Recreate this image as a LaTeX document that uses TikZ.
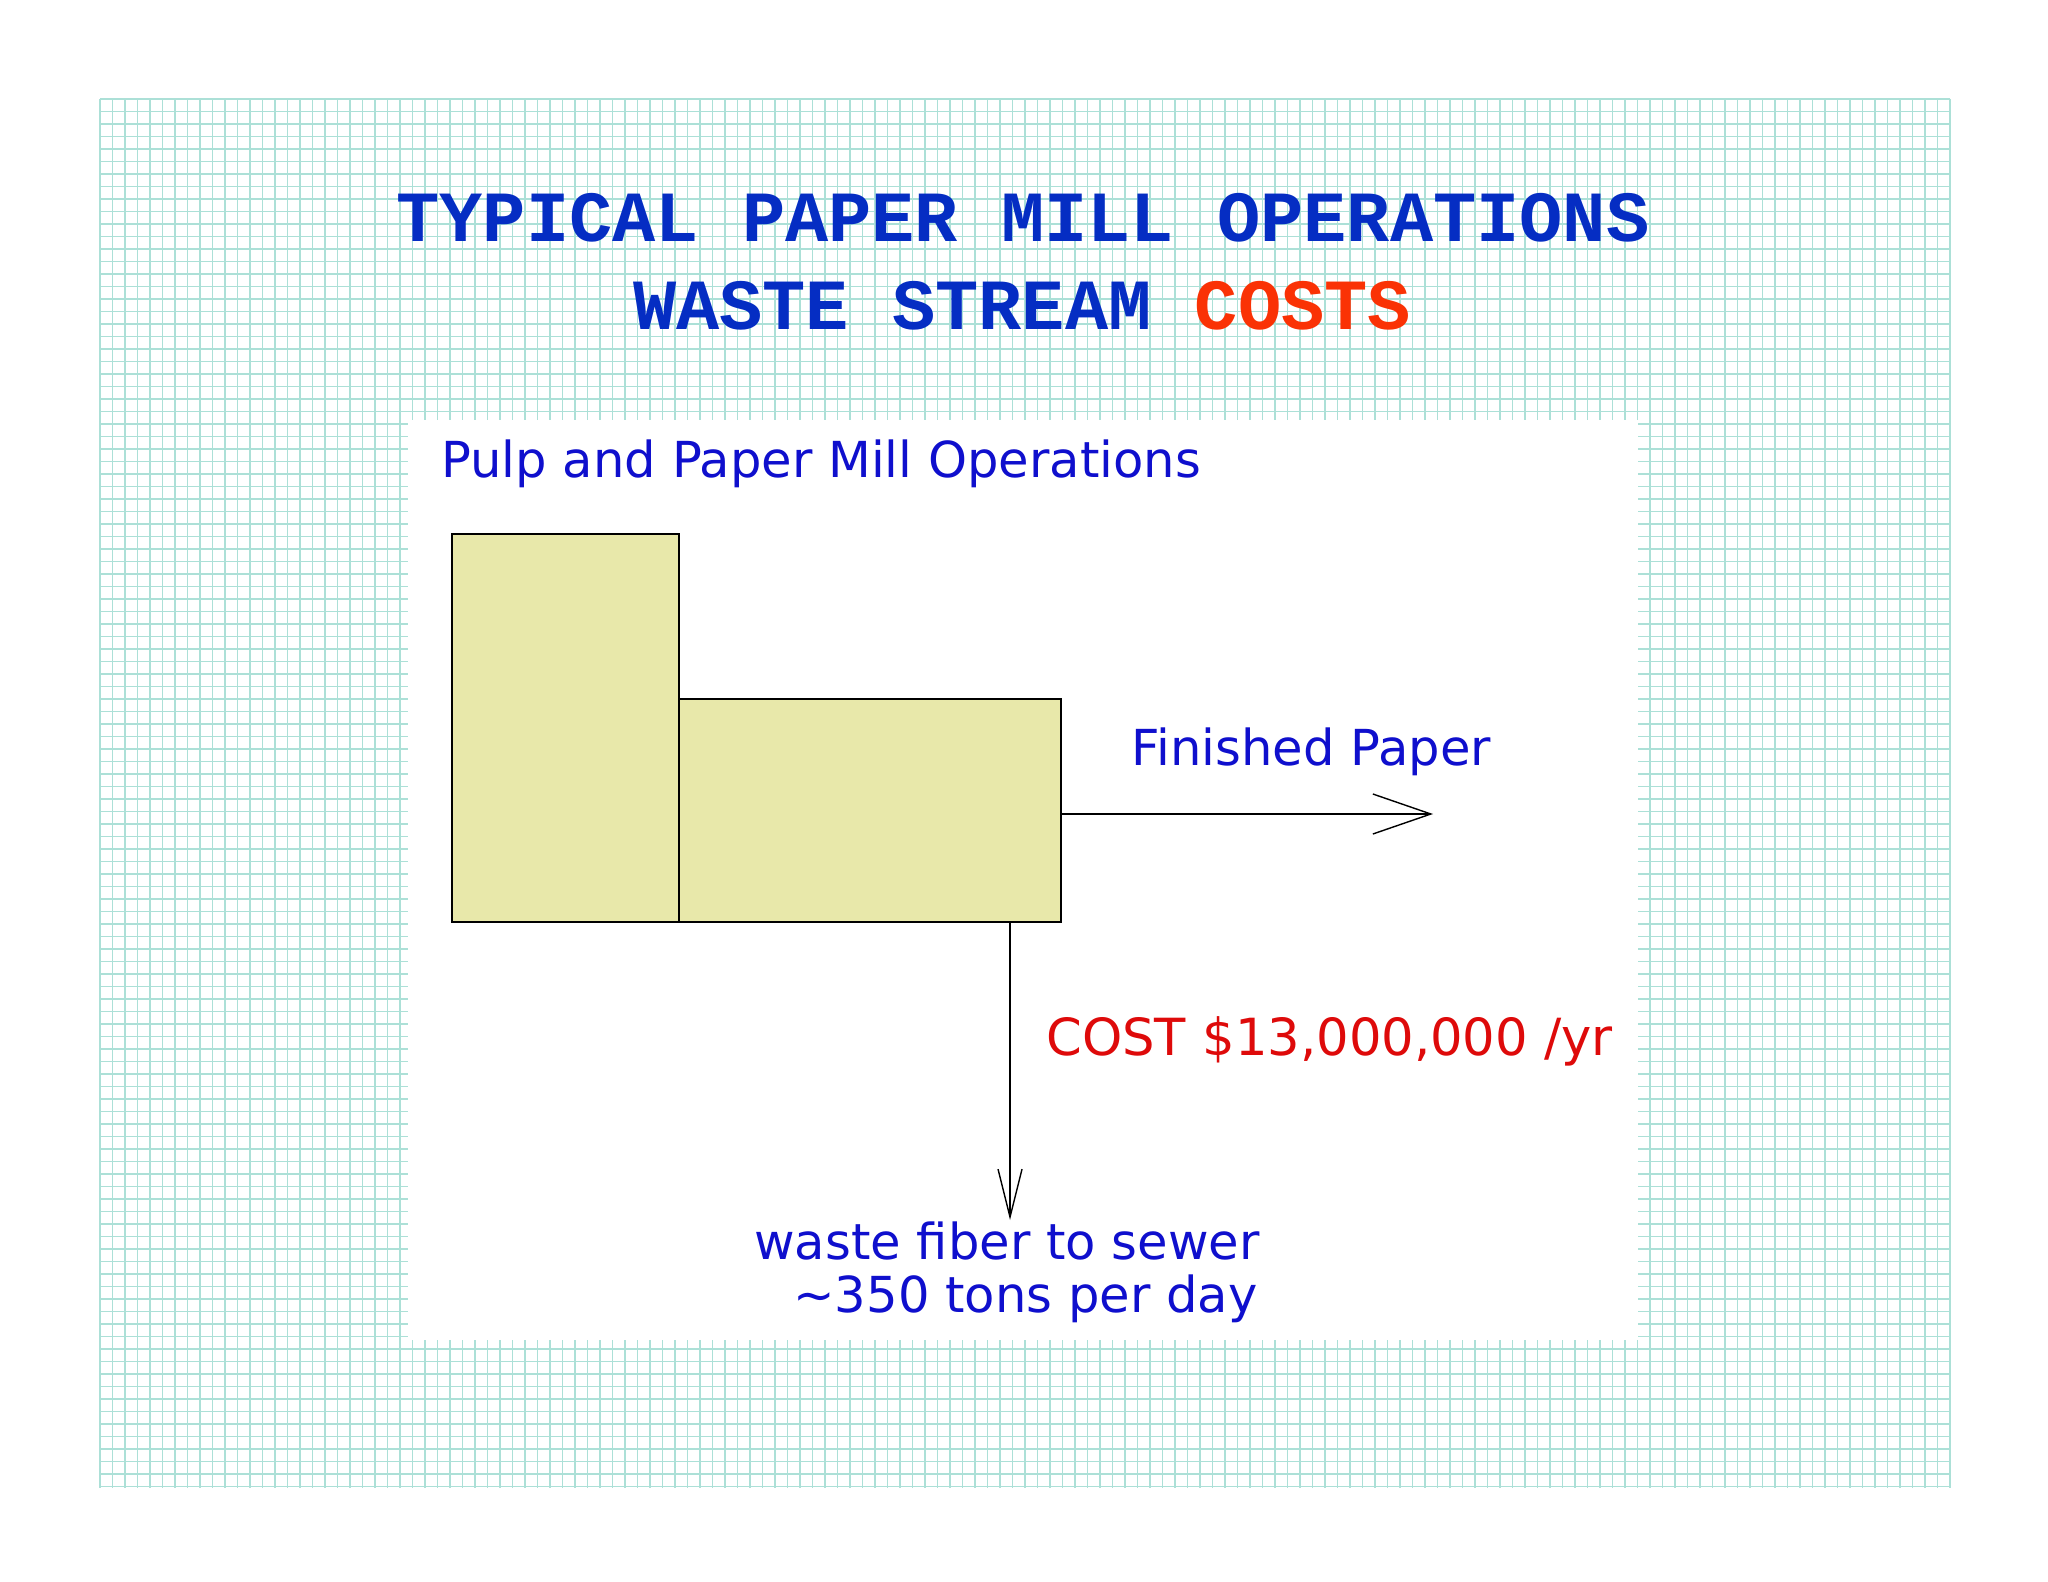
\documentclass[tikz,border=0pt]{standalone}
\usepackage{fontspec}
\usetikzlibrary{arrows.meta}
\newfontfamily\titlefont{Liberation Mono}
\newfontfamily\labelfont{DejaVu Sans}
\definecolor{gridc}{RGB}{172,224,215}
\definecolor{titleblue}{RGB}{5,45,195}
\definecolor{titlered}{RGB}{250,50,5}
\definecolor{txtblue}{RGB}{15,15,205}
\definecolor{txtred}{RGB}{222,10,10}
\definecolor{boxfill}{RGB}{232,232,170}
\begin{document}
\begin{tikzpicture}[x=0.5pt,y=-0.5pt,
  titletext/.style={inner sep=0pt, font=\titlefont\bfseries\fontsize{36}{40}\selectfont},
  lbl/.style={inner sep=0pt, font=\labelfont\fontsize{24.8}{29}\selectfont},
  millbox/.style={draw=black, line width=0.75pt, fill=boxfill, inner sep=0pt, outer sep=0pt, anchor=north west},
  flow/.style={draw=black, line width=0.7pt}
]
\useasboundingbox (0,0) rectangle (2048,1582);
\fill[white] (0,0) rectangle (2048,1582);
% graph paper grid
\foreach \i in {0,...,148} {
  \draw[gridc, line width=0.75pt] ({100+12.5*\i},99) -- ({100+12.5*\i},1488);
}
\foreach \j in {0,...,111} {
  \draw[gridc, line width=0.75pt] (100,{99+12.5*\j}) -- (1950,{99+12.5*\j});
}
% white panel
\fill[white] (408,420) rectangle (1638,1340);

% title
\node[titletext, text=titleblue, anchor=base] (title1) at (1023,242) {TYPICAL PAPER MILL OPERATIONS};
\node[titletext, anchor=base] (title2) at (1022,330) {\textcolor{titleblue}{WASTE STREAM }\textcolor{titlered}{COSTS}};

% panel heading
\node[lbl, text=txtblue, anchor=base west] (heading) at (441,478) {Pulp and Paper Mill Operations};

% mill boxes
\node[millbox, minimum width=113.5pt, minimum height=194pt] (pulp) at (452,534) {};
\node[millbox, minimum width=191pt, minimum height=111.5pt] (finish) at (679,699) {};

% connectors
\coordinate (ptip) at (1433,814);
\coordinate (wtip) at (1010,1220);
\draw[flow, -{Straight Barb[length=29pt, width=20pt, line width=0.7pt]}] (finish.east |- ptip) -- (ptip);
\draw[flow, -{Straight Barb[length=24pt, width=12pt, line width=0.7pt]}] (finish.south -| wtip) -- (wtip);

% labels
\node[lbl, text=txtblue, anchor=base west] (paperlbl) at (1131,765) {Finished Paper};
\node[lbl, text=txtred, anchor=base west, font=\labelfont\fontsize{25.6}{29}\selectfont] (costlbl) at (1046,1055) {COST \$13,000,000 /yr};
\node[lbl, text=txtblue, anchor=base east] (wastelbl) at (1260,1259) {waste fiber to sewer};
\node[lbl, text=txtblue, anchor=base east] (tonslbl) at (1258,1312) {\char"007E 350 tons per day};
\end{tikzpicture}
\end{document}
